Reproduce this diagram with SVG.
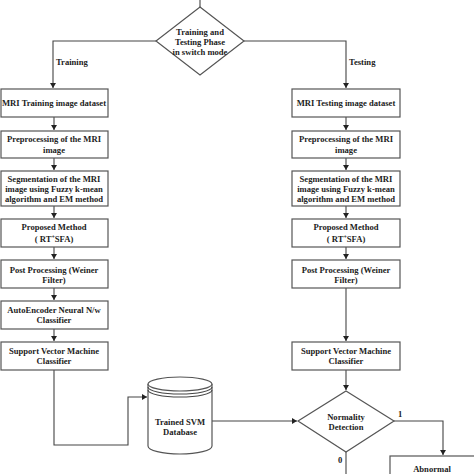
<svg xmlns="http://www.w3.org/2000/svg" width="474" height="474" viewBox="0 0 474 474">
<defs>
<marker id="ah" markerWidth="6" markerHeight="6" refX="5" refY="3" orient="auto" markerUnits="userSpaceOnUse">
<path d="M0,0 L5,3 L0,6 Z" fill="#222"/>
</marker>
<style>
.box{fill:#fff;stroke:#555;stroke-width:1.2}
.t{font-family:"Liberation Serif","Times New Roman",serif;font-weight:bold;font-size:8.6px;fill:#222;text-anchor:middle}
.l{font-family:"Liberation Serif","Times New Roman",serif;font-weight:bold;font-size:8.6px;fill:#222}
.c{fill:none;stroke:#444;stroke-width:1.1}
</style>
</defs>
<rect width="474" height="474" fill="#fff"/>
<g id="connectors">
<path class="c" d="M200,0 V7"/>
<path class="c" d="M156,41 H53 V88" marker-end="url(#ah)"/>
<path class="c" d="M244,41 H346 V88" marker-end="url(#ah)"/>
<path class="c" d="M54,117 V130" marker-end="url(#ah)"/>
<path class="c" d="M54,158 V170" marker-end="url(#ah)"/>
<path class="c" d="M54,206 V218" marker-end="url(#ah)"/>
<path class="c" d="M54,247 V259" marker-end="url(#ah)"/>
<path class="c" d="M54,288 V300" marker-end="url(#ah)"/>
<path class="c" d="M54,329 V341" marker-end="url(#ah)"/>
<path class="c" d="M346,117 V130" marker-end="url(#ah)"/>
<path class="c" d="M346,158 V170" marker-end="url(#ah)"/>
<path class="c" d="M346,206 V218" marker-end="url(#ah)"/>
<path class="c" d="M346,247 V259" marker-end="url(#ah)"/>
<path class="c" d="M346,288 V341" marker-end="url(#ah)"/>
<path class="c" d="M54,370 V445 H128 V397 H147" marker-end="url(#ah)"/>
<path class="c" d="M212,421 H297" marker-end="url(#ah)"/>
<path class="c" d="M346,370 V390" marker-end="url(#ah)"/>
<path class="c" d="M394,421 H443 V455" marker-end="url(#ah)"/>
<path class="c" d="M346,452 V474"/>
<text class="l" x="56" y="65">Training</text>
<text class="l" x="349" y="65">Testing</text>
<text class="l" x="398" y="417">1</text>
<text class="l" x="338" y="463">0</text>
</g>
<g id="decision1">
<polygon class="box" points="200,7 244,41 200,75 156,41"/>
<text class="t" x="200" y="35">Training and</text>
<text class="t" x="200" y="45">Testing Phase</text>
<text class="t" x="200" y="55">in switch mode</text>
</g>
<g id="train1"><rect class="box" x="1" y="89" width="107" height="28"/><text class="t" x="54" y="106">MRI Training image dataset</text></g>
<g id="train2"><rect class="box" x="1" y="131" width="107" height="27"/><text class="t" x="54" y="142">Preprocessing of the MRI</text><text class="t" x="54" y="153">image</text></g>
<g id="train3"><rect class="box" x="1" y="171" width="107" height="35"/><text class="t" x="54" y="182">Segmentation of the MRI</text><text class="t" x="54" y="192">image using  Fuzzy k-mean</text><text class="t" x="54" y="202">algorithm and EM method</text></g>
<g id="train4"><rect class="box" x="1" y="219" width="107" height="28"/><text class="t" x="54" y="230">Proposed Method</text><text class="t" x="54" y="242">( RT<tspan dy="-3" font-size="6">+</tspan><tspan dy="3">SFA)</tspan></text></g>
<g id="train5"><rect class="box" x="1" y="260" width="107" height="28"/><text class="t" x="54" y="273">Post Processing (Weiner</text><text class="t" x="54" y="283">Filter)</text></g>
<g id="train6"><rect class="box" x="1" y="301" width="107" height="28"/><text class="t" x="54" y="313">AutoEncoder Neural N/w</text><text class="t" x="54" y="323">Classifier</text></g>
<g id="train7"><rect class="box" x="1" y="342" width="107" height="28"/><text class="t" x="54" y="354">Support Vector Machine</text><text class="t" x="54" y="364">Classifier</text></g>
<g id="test1"><rect class="box" x="292" y="89" width="108" height="28"/><text class="t" x="346" y="106">MRI Testing image dataset</text></g>
<g id="test2"><rect class="box" x="292" y="131" width="108" height="27"/><text class="t" x="346" y="142">Preprocessing of the MRI</text><text class="t" x="346" y="153">image</text></g>
<g id="test3"><rect class="box" x="292" y="171" width="108" height="35"/><text class="t" x="346" y="182">Segmentation of the MRI</text><text class="t" x="346" y="192">image using  Fuzzy k-mean</text><text class="t" x="346" y="202">algorithm and EM method</text></g>
<g id="test4"><rect class="box" x="292" y="219" width="108" height="28"/><text class="t" x="346" y="230">Proposed Method</text><text class="t" x="346" y="242">( RT<tspan dy="-3" font-size="6">+</tspan><tspan dy="3">SFA)</tspan></text></g>
<g id="test5"><rect class="box" x="292" y="260" width="108" height="28"/><text class="t" x="346" y="273">Post Processing (Weiner</text><text class="t" x="346" y="283">Filter)</text></g>
<g id="test6"><rect class="box" x="292" y="342" width="108" height="28"/><text class="t" x="346" y="354">Support Vector Machine</text><text class="t" x="346" y="364">Classifier</text></g>
<g id="database">
<path class="box" d="M148,384 V446 A32,8 0 0 0 212,446 V384"/>
<ellipse class="box" cx="180" cy="384" rx="32" ry="7"/>
<path class="c" d="M148,387 A32,7 0 0 0 212,387"/>
<path class="c" d="M148,390 A32,7 0 0 0 212,390"/>
<text class="t" x="180" y="425">Trained SVM</text>
<text class="t" x="180" y="435">Database</text>
</g>
<g id="decision2">
<polygon class="box" points="346,391 394,421 346,452 298,421"/>
<text class="t" x="346" y="420">Normality</text>
<text class="t" x="346" y="430">Detection</text>
</g>
<g id="abnormal"><rect class="box" x="390" y="456" width="90" height="30"/><text class="t" x="432" y="472">Abnormal</text></g>
</svg>
